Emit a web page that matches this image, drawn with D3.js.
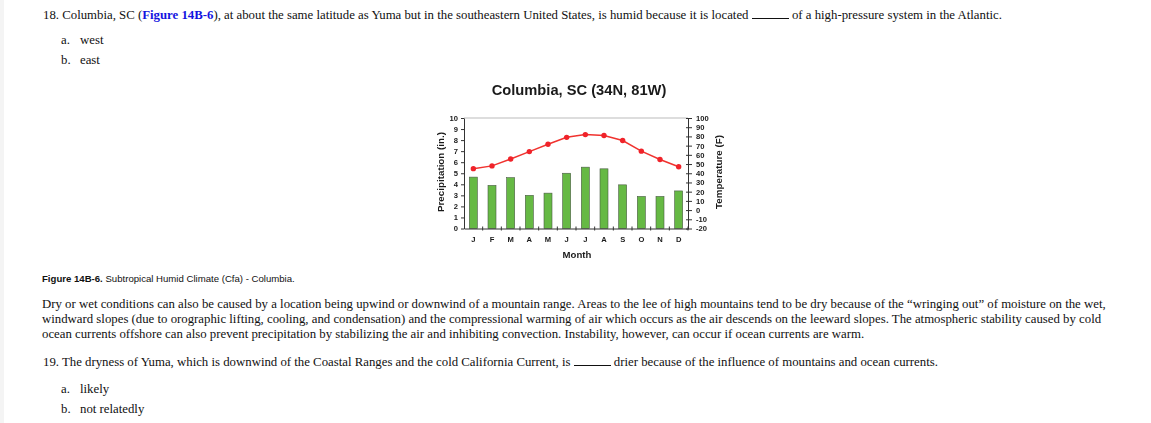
<!DOCTYPE html>
<html>
<head>
<meta charset="utf-8">
<script src="https://d3js.org/d3.v7.min.js"></script>
<style>
  html, body { margin: 0; padding: 0; background: #fff; overflow: hidden; }
  #page { position: relative; width: 1151px; height: 423px; }
  #strip { position: absolute; left: 0; top: 0; width: 4px; height: 423px; background: #f4f4f4; }
  .line {
    position: absolute;
    white-space: pre;
    font-family: "Liberation Serif", serif;
    font-size: 12.8px;
    line-height: 14px;
    color: #111;
  }
  .line b.link { color: #1414e0; }
  .line i.blank { display: inline-block; width: 37px; height: 11px; border-bottom: 1px solid #111; margin: 0 0 0 0; }
  .cap { font-family: "Liberation Sans", sans-serif; font-size: 9.6px; }
  svg { position: absolute; left: 0; top: 0; filter: blur(0.45px); }
  svg text { font-family: "Liberation Sans", sans-serif; font-weight: bold; fill: #1a1a1a; }
  .axis path, .axis line { stroke: #333; }
</style>
</head>
<body>
<div id="page"><div id="strip"></div></div>
<script>
var months = ["J", "F", "M", "A", "M", "J", "J", "A", "S", "O", "N", "D"];
var precipitation = [4.65, 3.9, 4.6, 3.0, 3.2, 5.0, 5.55, 5.4, 3.95, 2.9, 2.9, 3.4];
var temperature = [45, 48, 55.5, 63.5, 71.5, 79, 82, 81, 75.5, 64, 55, 47];
var precipTicks = [0, 1, 2, 3, 4, 5, 6, 7, 8, 9, 10];
var tempTicks = [-20, -10, 0, 10, 20, 30, 40, 50, 60, 70, 80, 90, 100];
var chartTitle = "Columbia, SC (34N, 81W)";

var blank = '<i class="blank"></i>';
var textLines = [
  {x: 43, y: 7, html: '18. Columbia, SC (<b class="link">Figure 14B-6</b>), at about the same latitude as Yuma but in the southeastern United States, is humid because it is located ' + blank + ' of a high-pressure system in the Atlantic.'},
  {x: 61, y: 33, html: 'a.'}, {x: 80, y: 33, html: 'west'},
  {x: 61, y: 53, html: 'b.'}, {x: 80, y: 53, html: 'east'},
  {x: 42, y: 272, cls: 'cap', html: '<b>Figure 14B-6.</b> Subtropical Humid Climate (Cfa) - Columbia.'},
  {x: 42, y: 297, html: 'Dry or wet conditions can also be caused by a location being upwind or downwind of a mountain range. Areas to the lee of high mountains tend to be dry because of the \u201cwringing out\u201d of moisture on the wet,'},
  {x: 42, y: 312, html: 'windward slopes (due to orographic lifting, cooling, and condensation) and the compressional warming of air which occurs as the air descends on the leeward slopes. The atmospheric stability caused by cold'},
  {x: 42, y: 327, html: 'ocean currents offshore can also prevent precipitation by stabilizing the air and inhibiting convection. Instability, however, can occur if ocean currents are warm.'},
  {x: 43, y: 354, html: '19. The dryness of Yuma, which is downwind of the Coastal Ranges and the cold California Current, is ' + blank + ' drier because of the influence of mountains and ocean currents.'},
  {x: 61, y: 382, html: 'a.'}, {x: 80, y: 382, html: 'likely'},
  {x: 61, y: 402, html: 'b.'}, {x: 80, y: 402, html: 'not relatedly'}
];

d3.select("#page").selectAll("div.line")
  .data(textLines)
  .enter()
  .append("div")
  .attr("class", function(d) { return "line " + (d.cls || ""); })
  .style("left", function(d) { return d.x + "px"; })
  .style("top", function(d) { return d.y + "px"; })
  .html(function(d) { return d.html; });

var svg = d3.select("#page").append("svg").attr("width", 1151).attr("height", 423);

var left = 464, right = 688, top_ = 118, bottom = 228.5;

var x = d3.scaleBand().domain(d3.range(12)).range([left, right]);
var yP = d3.scaleLinear().domain([0, 10]).range([bottom, top_]);
var yT = d3.scaleLinear().domain([-20, 100]).range([bottom, top_]);

// top frame line
svg.append("line")
  .attr("x1", left).attr("x2", right)
  .attr("y1", top_).attr("y2", top_)
  .attr("stroke", "#bbb");

// bars
svg.append("g").selectAll("rect")
  .data(precipitation)
  .enter()
  .append("rect")
  .attr("x", function(d, i) { return x(i) + x.bandwidth() / 2 - 4; })
  .attr("y", function(d) { return yP(d); })
  .attr("width", 8)
  .attr("height", function(d) { return bottom - yP(d); })
  .attr("fill", "#66b944")
  .attr("stroke", "#4a5a44")
  .attr("stroke-width", 0.6);

// left axis
var axisL = svg.append("g").attr("class", "axis")
  .attr("transform", "translate(" + left + ",0)")
  .call(d3.axisLeft(yP).tickValues(precipTicks).tickSize(3).tickSizeOuter(0).tickPadding(3));
axisL.selectAll("text").style("font-size", "7.6px");

// right axis
var axisR = svg.append("g").attr("class", "axis")
  .attr("transform", "translate(" + right + ",0)")
  .call(d3.axisRight(yT).tickValues(tempTicks).tickFormat(String).tickSize(4).tickSizeOuter(0).tickPadding(4));
axisR.selectAll("text").style("font-size", "7.6px");
axisR.selectAll("line").attr("x1", -2);

// bottom axis, ticks sit between the months
var axisB = svg.append("g").attr("class", "axis")
  .attr("transform", "translate(0," + bottom + ")")
  .call(d3.axisBottom(x).tickFormat(function(d) { return months[d]; }).tickSize(0).tickPadding(8));
axisB.selectAll("text").style("font-size", "7.6px");
axisB.selectAll("g.tick").append("line")
  .attr("x1", x.bandwidth() / 2).attr("x2", x.bandwidth() / 2)
  .attr("y1", -2).attr("y2", 2)
  .attr("stroke", "#333");

// temperature line
var line = d3.line()
  .x(function(d, i) { return x(i) + x.bandwidth() / 2; })
  .y(function(d) { return yT(d); });

svg.append("path")
  .datum(temperature)
  .attr("d", line)
  .attr("fill", "none")
  .attr("stroke", "#f0332f")
  .attr("stroke-width", 1.5);

svg.append("g").selectAll("circle")
  .data(temperature)
  .enter()
  .append("circle")
  .attr("cx", function(d, i) { return x(i) + x.bandwidth() / 2; })
  .attr("cy", function(d) { return yT(d); })
  .attr("r", 2.7)
  .attr("fill", "#f0232a");

// titles
svg.append("text").attr("x", 579).attr("y", 95)
  .attr("text-anchor", "middle").style("font-size", "14.7px").text(chartTitle);
svg.append("text").attr("x", 577).attr("y", 258)
  .attr("text-anchor", "middle").style("font-size", "9.6px").text("Month");
svg.append("text")
  .attr("transform", "translate(443.5,172) rotate(-90)")
  .attr("text-anchor", "middle").style("font-size", "9.8px").text("Precipitation (in.)");
svg.append("text")
  .attr("transform", "translate(722,172) rotate(-90)")
  .attr("text-anchor", "middle").style("font-size", "9.8px").text("Temperature (F)");
</script>
</body>
</html>
